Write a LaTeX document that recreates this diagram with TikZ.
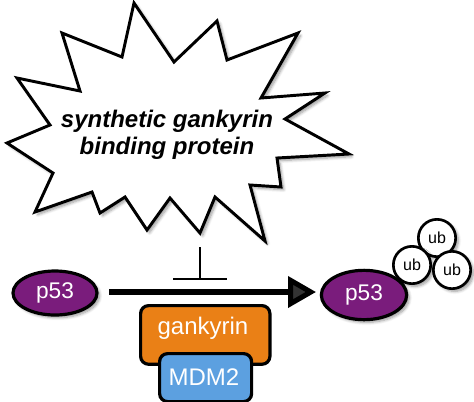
\documentclass[tikz,border=0pt]{standalone}
\usepackage{fontspec}
\setmainfont{Liberation Sans}
\usetikzlibrary{shadows.blur,arrows.meta,shapes.geometric}
\definecolor{pur}{RGB}{122,28,124}
\definecolor{org}{RGB}{234,128,22}
\definecolor{blu}{RGB}{92,160,224}
\tikzset{
  outl/.style={draw=black,line width=2.4pt},
  shad/.style={blur shadow={shadow xshift=2pt,shadow yshift=-2pt,shadow blur steps=6,shadow opacity=40}},
  protein/.style={ellipse,outl,fill=pur,text=white,font=\fontsize{17}{20}\selectfont},
  ubnode/.style={circle,draw=black,line width=2pt,fill=white,minimum size=28pt,inner sep=0pt,font=\fontsize{12}{14}\selectfont},
  boxnode/.style={rounded corners=6pt,outl,text=white,font=\fontsize{18}{21}\selectfont,inner sep=0pt}
}
\begin{document}
\begin{tikzpicture}[x=0.75pt,y=-0.75pt]
\useasboundingbox (0,0) rectangle (474,401);
% star burst
\draw[line width=2.2pt,fill=white,line join=miter,shad]
 (134,3) -- (174,62) -- (217,21) -- (227,60) -- (298,33) -- (261,98) -- (325,93)
 -- (285,119) -- (349,154) -- (277,158) -- (281,187) -- (250,185) -- (265,241)
 -- (215,197) -- (200,233) -- (170,198) -- (147,230) -- (125,197) -- (100,213)
 -- (92,192) -- (35,212) -- (53,173) -- (7,143) -- (50,125) -- (17,78) -- (80,91)
 -- (62,33) -- (122,57) -- cycle;
\node[font=\fontsize{18}{20.5}\selectfont\bfseries\itshape,align=center] (sgbp) at (167,135) {synthetic gankyrin\\binding protein};
% inhibition
\coordinate (inhtop) at (200,247);
\coordinate (inhbot) at (200,279);
\draw[line width=2.2pt] (inhtop) -- (inhbot);
\draw[line width=2.2pt] ([xshift=-20pt]inhbot) -- ([xshift=20pt]inhbot);
% proteins
\node[protein,minimum width=63pt,minimum height=33pt,shad] (p53a) at (55,293) {p53};
\node[protein,minimum width=64pt,minimum height=37pt,shad] (p53b) at (364,295) {p53};
\node[ubnode,shad] (ub1) at (437,238) {ub};
\node[ubnode,shad] (ub2) at (412,265) {ub};
\node[ubnode,shad] (ub3) at (452,270) {ub};
% arrow
\coordinate (arst) at (109,292);
\coordinate (aren) at (316,292);
\draw[line width=3.8pt,-{Triangle[length=21pt,width=23pt]}] (arst) -- (aren);
% complex
\node[boxnode,fill=org,minimum width=97pt,minimum height=44pt,anchor=north west] (gank) at (139,304) {};
\node[font=\fontsize{18}{21}\selectfont,text=white] (gtxt) at (203,328) {gankyrin};
\node[boxnode,fill=blu,minimum width=69pt,minimum height=36pt,anchor=north west] (mdm) at (158,352) {};
\node[font=\fontsize{18}{21}\selectfont,text=white] (mtxt) at (204,377) {MDM2};
\end{tikzpicture}
\end{document}
